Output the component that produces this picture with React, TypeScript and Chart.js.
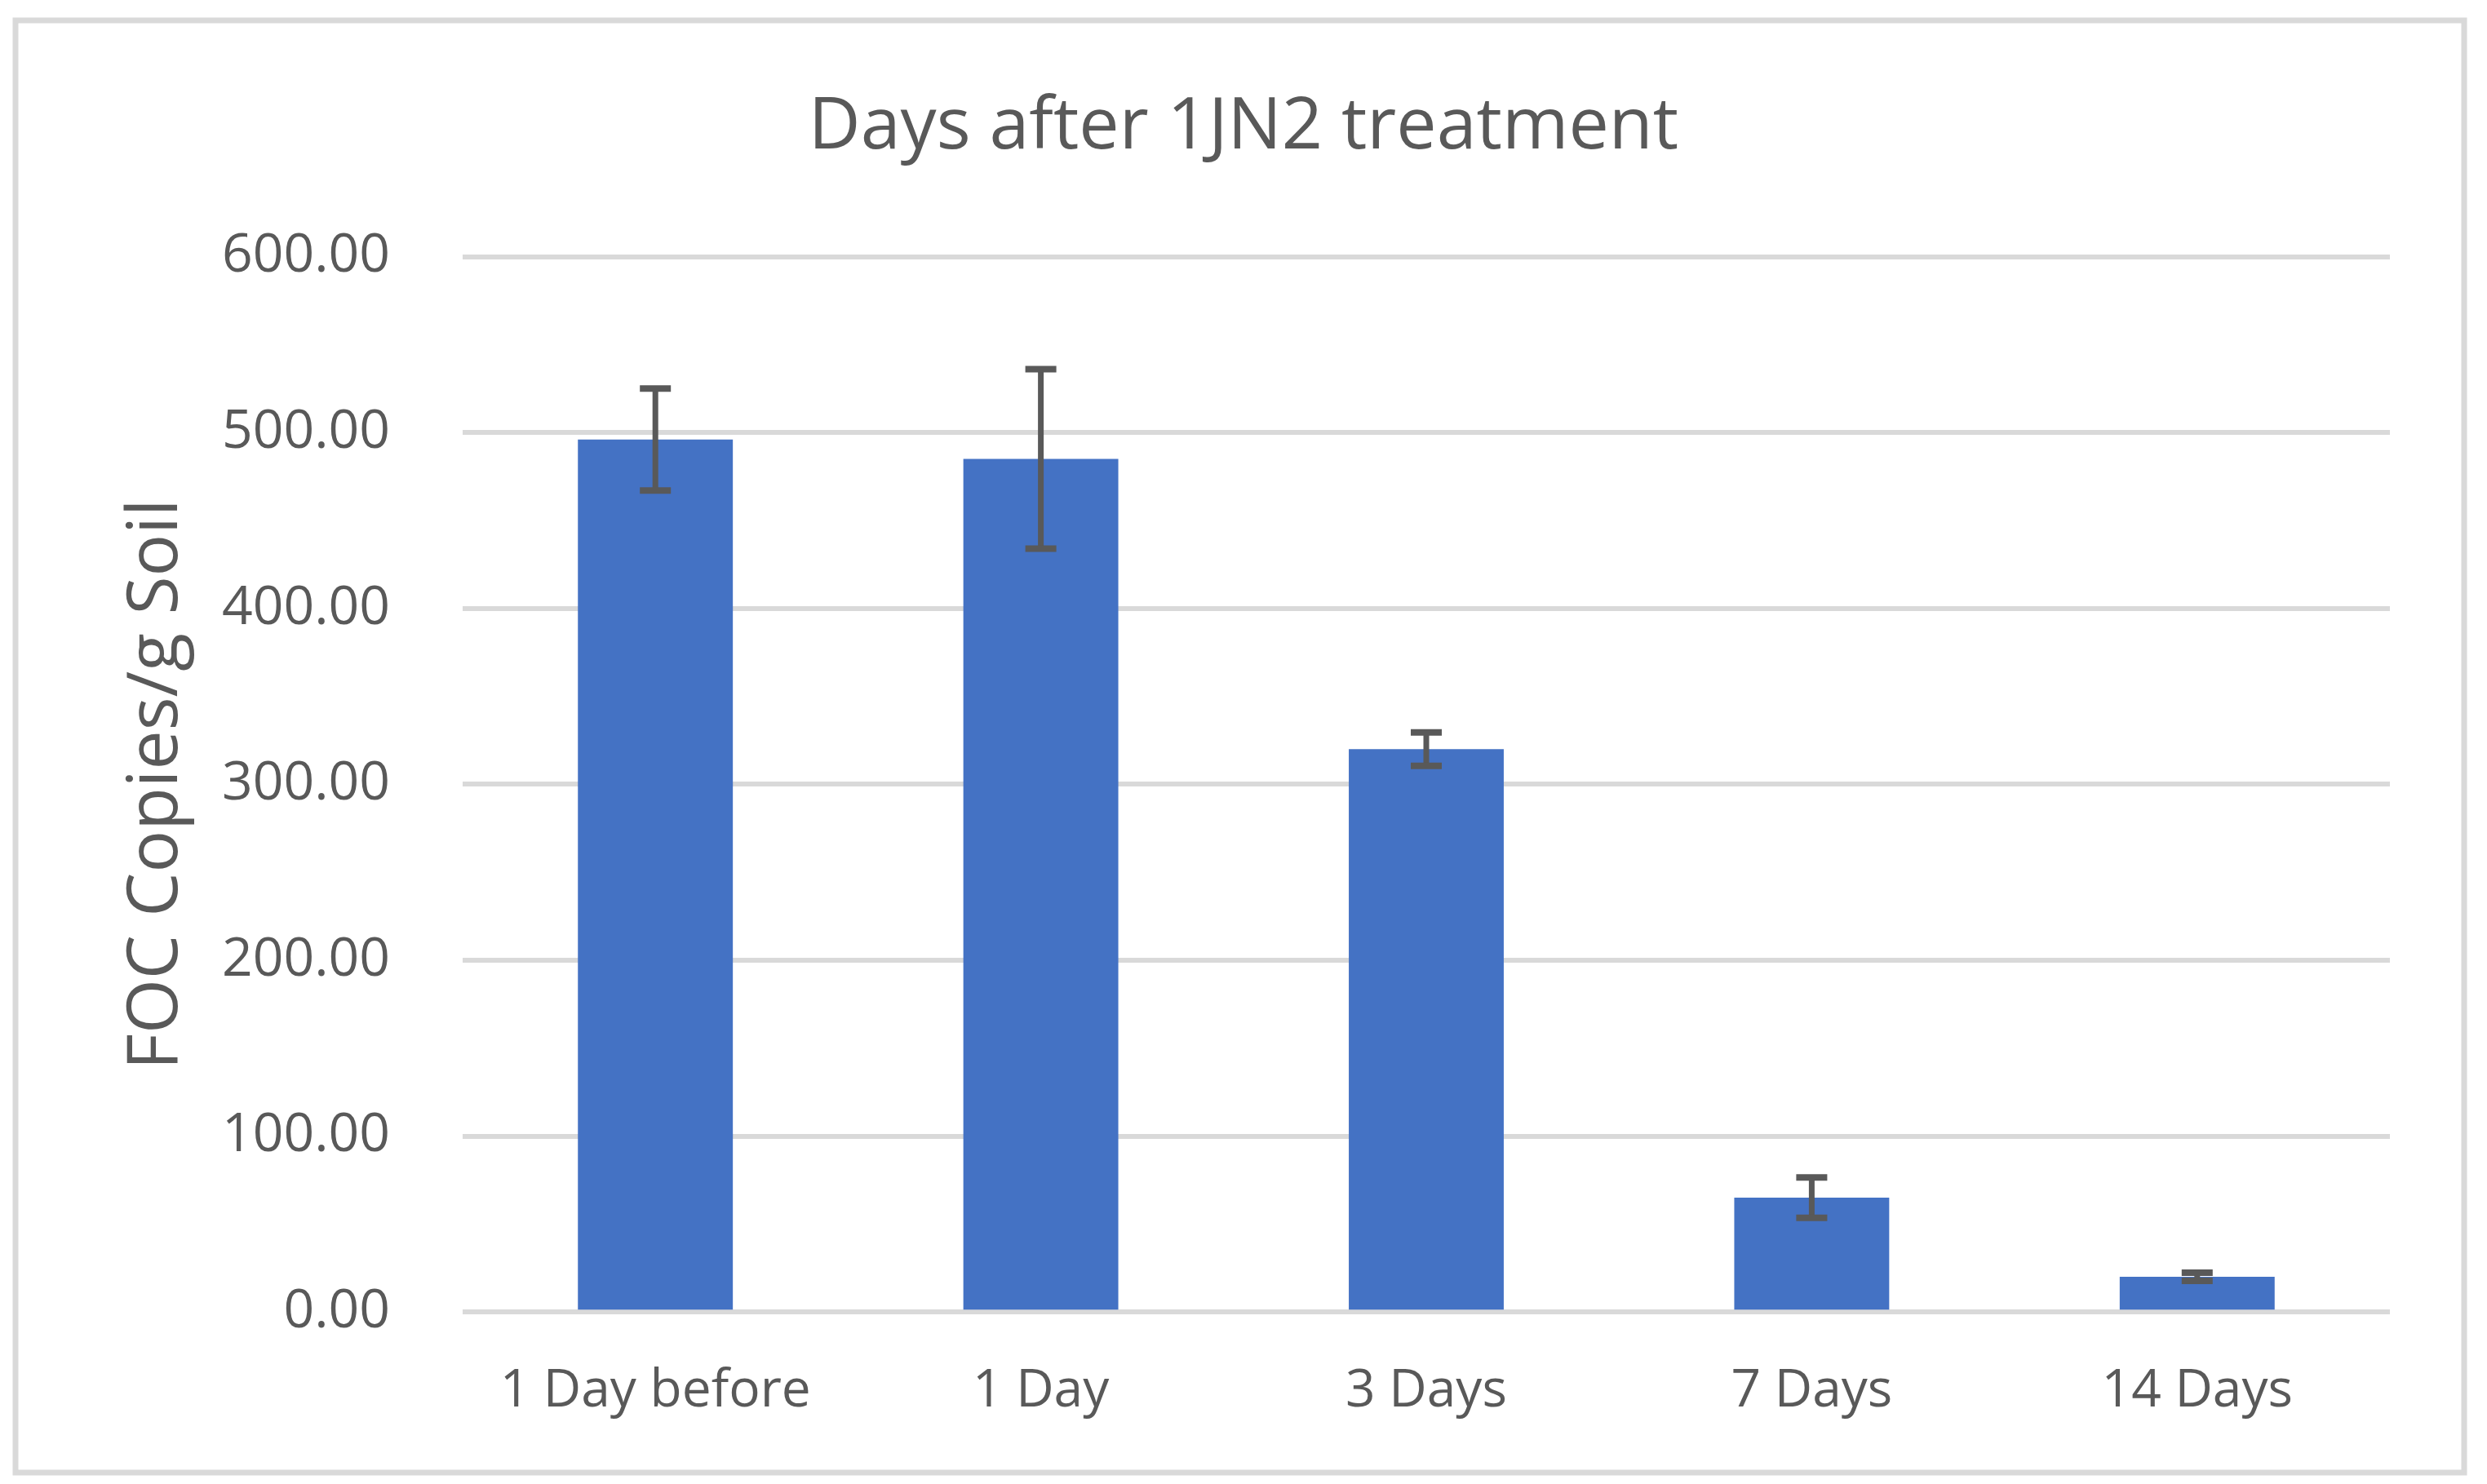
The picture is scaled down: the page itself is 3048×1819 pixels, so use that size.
import React, { useEffect, useRef } from "react";
import { Chart, registerables } from "chart.js";

Chart.register(...registerables);

const categories = ["1 Day before", "1 Day", "3 Days", "7 Days", "14 Days"];
const values = [496, 485, 320, 65, 20];
const errors = [29, 51, 9.5, 11.5, 2.3];
const yMin = 0;
const yMax = 600;
const yStep = 100;
const titleText = "Days after 1JN2 treatment";
const yAxisTitle = "FOC Copies/g Soil";

const W = 3048;
const H = 1819;
const FONT = "'Open Sans', 'Noto Sans', sans-serif";
const TEXT = "#595959";
const GRID = "#d9d9d9";

const frameAndErrorPlugin = {
  id: "frameAndError",
  beforeDraw(chart: any) {
    const ctx = chart.ctx;
    ctx.save();
    ctx.fillStyle = "#ffffff";
    ctx.fillRect(0, 0, chart.width, chart.height);
    ctx.strokeStyle = GRID;
    ctx.lineWidth = 7;
    ctx.strokeRect(19, 25, 3001, 1780);
    ctx.restore();
  },
  afterDatasetsDraw(chart: any) {
    const meta = chart.getDatasetMeta(0);
    const y = chart.scales.y;
    const ctx = chart.ctx;
    ctx.save();
    ctx.strokeStyle = "#595959";
    ctx.lineCap = "butt";
    meta.data.forEach((bar: any, i: number) => {
      const v = values[i];
      const e = errors[i];
      const top = y.getPixelForValue(v + e);
      const bot = y.getPixelForValue(v - e);
      const x = bar.x;
      ctx.lineWidth = 7;
      ctx.beginPath();
      ctx.moveTo(x, top);
      ctx.lineTo(x, bot);
      ctx.stroke();
      ctx.lineWidth = 8;
      ctx.beginPath();
      ctx.moveTo(x - 19, top);
      ctx.lineTo(x + 19, top);
      ctx.moveTo(x - 19, bot);
      ctx.lineTo(x + 19, bot);
      ctx.stroke();
    });
    ctx.restore();
  },
};

export default function App() {
  const ref = useRef<HTMLCanvasElement | null>(null);

  useEffect(() => {
    if (!ref.current) return;
    const chart = new Chart(ref.current, {
      type: "bar",
      data: {
        labels: categories,
        datasets: [
          {
            data: values,
            yAxisID: "y",
            backgroundColor: "#4472C4",
            borderWidth: 0,
            barPercentage: 0.402,
            categoryPercentage: 1,
          },
        ],
      },
      plugins: [frameAndErrorPlugin],
      options: {
        responsive: false,
        animation: false,
        devicePixelRatio: 1,
        layout: { padding: { left: 0, right: 0, top: 0, bottom: 16 } },
        plugins: {
          legend: { display: false },
          tooltip: { enabled: false },
          title: {
            display: true,
            text: titleText,
            color: TEXT,
            font: { family: FONT, size: 88, weight: "normal" },
            padding: { top: 104, bottom: 105 },
          },
        },
        scales: {
          x: {
            grid: { display: false, drawTicks: false },
            border: { display: false },
            ticks: {
              color: TEXT,
              font: { family: FONT, size: 64 },
              padding: 59,
              maxRotation: 0,
              autoSkip: false,
            },
          },
          y: {
            position: "left",
            min: yMin,
            max: yMax,
            afterFit(scale: any) {
              scale.width = 567;
            },
            grid: { color: GRID, lineWidth: 6, drawTicks: false },
            border: { display: false },
            ticks: {
              stepSize: yStep,
              color: TEXT,
              font: { family: FONT, size: 66 },
              padding: 89,
              callback: (v: any) => Number(v).toFixed(2),
            },
            title: {
              display: true,
              text: yAxisTitle,
              color: TEXT,
              font: { family: FONT, size: 86, weight: "normal" },
              padding: { top: 141, bottom: 0 },
            },
          },
          yRightSpace: {
            type: "linear",
            position: "right",
            grid: { display: false, drawTicks: false },
            border: { display: false },
            ticks: { display: false },
            afterFit(scale: any) {
              scale.width = 119;
            },
          },
        },
      },
    });
    return () => chart.destroy();
  }, []);

  return (
    <div style={{ position: "fixed", left: 0, top: 0, width: W, height: H, background: "#fff" }}>
      <canvas ref={ref} width={W} height={H} style={{ width: W, height: H, display: "block" }} />
    </div>
  );
}
